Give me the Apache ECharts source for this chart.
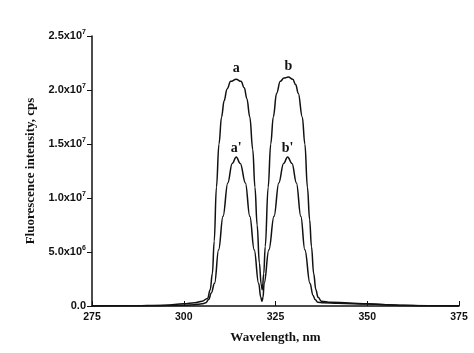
<!DOCTYPE html>
<html>
<head>
<meta charset="utf-8">
<script src="https://cdn.jsdelivr.net/npm/echarts@6/dist/echarts.min.js"></script>
<style>
  html, body { margin: 0; padding: 0; background: #fff; }
  #chart { width: 474px; height: 353px; }
</style>
</head>
<body>
<div id="chart"></div>
<script>
// x axis ticks (nm)
var xTicks = [275, 300, 325, 350, 375];

// outer curve (a, b): [wavelength nm, intensity cps]
var curveAB = [
  [275, 0], [285, 0.02e6], [295, 0.08e6], [300, 0.2e6], [303, 0.3e6], [305, 0.45e6],
  [306.5, 0.7e6], [307.2, 1.5e6], [307.8, 3e6], [308.3, 6e6], [308.9, 11e6],
  [309.6, 15e6], [310.3, 17.5e6], [311.0, 19e6], [311.8, 20.1e6], [312.8, 20.8e6],
  [314.3, 21.0e6], [315.6, 20.8e6], [316.5, 20.2e6], [317.2, 19.2e6], [318.0, 17.5e6],
  [318.8, 14.5e6], [319.4, 11e6], [320.0, 7.5e6], [320.6, 4e6], [321.1, 2.0e6],
  [321.4, 1.5e6], [321.8, 3.0e6], [322.2, 5.5e6], [323.0, 11e6], [323.7, 15e6],
  [324.4, 17.5e6], [325.3, 19.7e6], [326.3, 20.8e6], [327.3, 21.1e6], [328.5, 21.2e6],
  [329.7, 21.0e6], [330.5, 20.5e6], [331.2, 19.7e6], [332.3, 17.5e6], [333.0, 15e6],
  [333.7, 11e6], [334.3, 8e6], [334.8, 5.5e6], [335.4, 3e6], [336.0, 1.5e6],
  [336.6, 0.8e6], [337.5, 0.45e6], [340, 0.35e6], [345, 0.28e6], [350, 0.2e6],
  [355, 0.12e6], [360, 0.06e6], [365, 0.02e6], [375, 0]
];

// inner curve (a', b')
var curveA2B2 = [
  [275, 0], [290, 0.02e6], [300, 0.08e6], [303, 0.12e6], [305, 0.2e6], [306, 0.3e6],
  [306.8, 0.6e6], [307.5, 1.2e6], [308.4, 2.1e6], [309.5, 5.2e6], [310.7, 8.3e6],
  [312.0, 11.4e6], [313.2, 13.2e6], [314.3, 13.8e6], [315.4, 13.2e6], [316.8, 11.4e6],
  [318.0, 8.3e6], [319.2, 5.2e6], [320.4, 2.1e6], [321.0, 0.8e6], [321.3, 0.45e6],
  [321.6, 0.8e6], [321.9, 2.1e6], [323.2, 5.2e6], [324.6, 8.3e6], [325.9, 11.4e6],
  [327.2, 13.2e6], [328.3, 13.8e6], [329.5, 13.2e6], [330.7, 11.4e6], [331.9, 8.3e6],
  [333.0, 5.2e6], [334.4, 2.1e6], [335.2, 1.0e6], [335.8, 0.6e6], [336.5, 0.35e6],
  [338, 0.3e6], [342, 0.25e6], [350, 0.18e6], [360, 0.05e6], [375, 0]
];

var namesAB = ['a', 'b'];
var namesA2B2 = ["a'", "b'"];

// highest point of a curve between lo and hi
function peakOf(data, lo, hi) {
  var best = null;
  for (var i = 0; i < data.length; i++) {
    if (data[i][0] >= lo && data[i][0] <= hi && (!best || data[i][1] > best[1])) best = data[i];
  }
  return best;
}

function peakMarks(data, names, dist) {
  return {
    symbol: 'circle',
    symbolSize: 0,
    label: {
      show: true, position: 'top', distance: dist, formatter: '{b}',
      fontFamily: 'Liberation Serif', fontWeight: 'bold', fontSize: 14, color: '#111'
    },
    data: [
      { name: names[0], coord: peakOf(data, 275, 321) },
      { name: names[1], coord: peakOf(data, 321.5, 375) }
    ]
  };
}

function yLabel(v) {
  if (v === 0) return '{m|0.0}';
  var e = Math.floor(Math.log10(v) + 1e-9);
  var m = (v / Math.pow(10, e)).toFixed(1);
  return '{m|' + m + 'x10}{e|' + e + '}';
}

var lineStyle = { color: '#111', width: 1.5 };
var labelFont = { fontFamily: 'Liberation Sans', fontWeight: 'bold', fontSize: 11, color: '#111' };

var option = {
  animation: false,
  grid: { left: 92, right: 15, top: 36, bottom: 47 },
  xAxis: {
    type: 'value', min: 275, max: 375, interval: 25,
    name: 'Wavelength, nm', nameLocation: 'middle', nameGap: 25,
    nameTextStyle: { fontFamily: 'Liberation Serif', fontWeight: 'bold', fontSize: 13, color: '#111' },
    axisLine: { lineStyle: lineStyle },
    axisTick: { inside: true, length: 5, lineStyle: { color: '#111', width: 1 } },
    axisLabel: Object.assign({ margin: 6 }, labelFont, { fontSize: 10.5 }),
    splitLine: { show: false }
  },
  yAxis: {
    type: 'value', min: 0, max: 2.5e7, interval: 5e6,
    name: 'Fluorescence intensity, cps', nameLocation: 'middle', nameGap: 51,
    nameTextStyle: { fontFamily: 'Liberation Serif', fontWeight: 'bold', fontSize: 13, color: '#111' },
    axisLine: { lineStyle: lineStyle },
    axisTick: { inside: false, length: 5, lineStyle: { color: '#111', width: 1 } },
    axisLabel: {
      margin: 6,
      formatter: yLabel,
      rich: {
        m: labelFont,
        e: { fontFamily: 'Liberation Sans', fontWeight: 'bold', fontSize: 7, color: '#111', padding: [0, 0, 7, 0] }
      }
    },
    splitLine: { show: false }
  },
  series: [
    {
      type: 'line', data: curveAB, showSymbol: false, smooth: 0.4, smoothMonotone: 'x',
      lineStyle: lineStyle, markPoint: peakMarks(curveAB, namesAB, 4)
    },
    {
      type: 'line', data: curveA2B2, showSymbol: false, smooth: 0.4, smoothMonotone: 'x',
      lineStyle: lineStyle, markPoint: peakMarks(curveA2B2, namesA2B2, 2)
    }
  ]
};

echarts.init(document.getElementById('chart')).setOption(option);
</script>
</body>
</html>
